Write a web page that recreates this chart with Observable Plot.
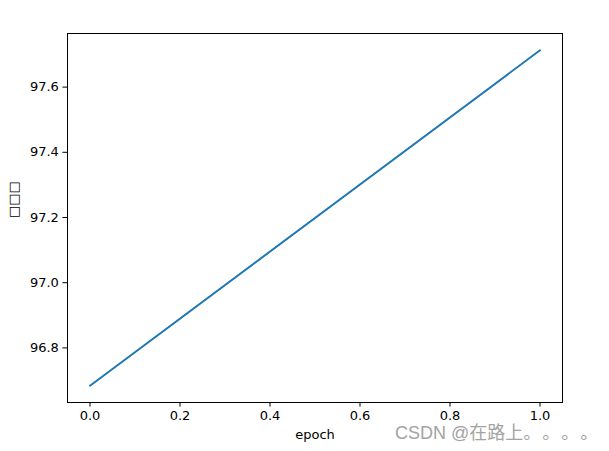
<!DOCTYPE html>
<html>
<head>
<meta charset="utf-8">
<script src="https://cdn.jsdelivr.net/npm/d3@7"></script>
<script src="https://cdn.jsdelivr.net/npm/@observablehq/plot@0.6"></script>
<style>
  html, body { margin: 0; padding: 0; background: #fff; }
  #wrap { position: relative; width: 609px; height: 451px; overflow: hidden; }
  #wm { position: absolute; left: 395px; top: 424px; font-family: "Liberation Sans", "Noto Sans CJK SC", sans-serif;
        font-size: 18px; color: #a3a3a3; white-space: nowrap; line-height: 1; }
  #wm .dots { letter-spacing: 10px; }
</style>
</head>
<body>
<div id="wrap"><div id="chart"></div><div id="wm">CSDN @在路上<span class="dots">。。。。</span></div></div>
<script>
const epochs = [0, 1];
const accuracy = [96.684, 97.713];
const xTicks = [0.0, 0.2, 0.4, 0.6, 0.8, 1.0];
const yTicks = [96.8, 97.0, 97.2, 97.4, 97.6];
const xLabel = "epoch";
const yLabel = "□□□";

const data = epochs.map((e, i) => ({epoch: e, acc: accuracy[i]}));
const yMin = d3.min(accuracy), yMax = d3.max(accuracy), r = yMax - yMin;

const chart = Plot.plot({
  width: 609,
  height: 451,
  marginLeft: 67,
  marginRight: 47,
  marginTop: 33,
  marginBottom: 49,
  style: {fontFamily: "DejaVu Sans, sans-serif", fontSize: "13px", color: "#000", background: "#fff"},
  x: {domain: [-0.05, 1.05], ticks: xTicks, tickFormat: ".1f", label: null, tickSize: 4.6, tickPadding: 4},
  y: {domain: [yMin - 0.05 * r, yMax + 0.05 * r], ticks: yTicks, tickFormat: ".1f", label: null, tickSize: 4.6, tickPadding: 4},
  marks: [
    Plot.line(data, {x: "epoch", y: "acc", stroke: "#1f77b4", strokeWidth: 2}),
    Plot.frame({stroke: "#000", strokeWidth: 1}),
    Plot.text([xLabel], {frameAnchor: "bottom", dy: 36, text: d => d, fontSize: 13}),
    Plot.text([yLabel], {frameAnchor: "left", dx: -54, rotate: -90, text: d => d, fontSize: 13})
  ]
});
document.getElementById("chart").appendChild(chart);
</script>
</body>
</html>
